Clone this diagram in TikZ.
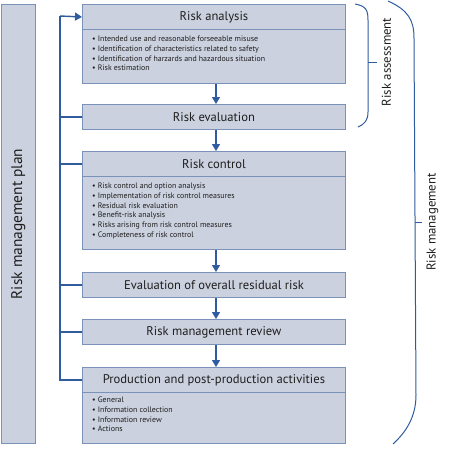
\documentclass[tikz,border=0pt]{standalone}
\usepackage{fontspec}
\setmainfont{PT Sans}
\usetikzlibrary{arrows.meta}
\definecolor{boxfill}{RGB}{203,209,222}
\definecolor{boxline}{RGB}{122,146,186}
\definecolor{flowblue}{RGB}{46,92,158}
\definecolor{txt}{RGB}{30,30,30}
\begin{document}
\begin{tikzpicture}[x=1pt,y=-1pt,
  boxc/.style={draw=boxline, fill=boxfill, line width=0.9pt, minimum width=263pt, inner sep=0pt, anchor=north west},
  titlebox/.style={boxc, minimum height=25pt, text=txt, font=\fontsize{12.6}{14}\selectfont},
  bullets/.style={anchor=north west, align=left, inner sep=0pt, text=txt, font=\fontsize{7.9}{9.7}\selectfont},
  flow/.style={draw=flowblue, line width=1.4pt},
  tip/.style={-{Triangle[width=8pt,length=7pt]}},
  brace/.style={draw=flowblue, line width=1pt},
  sidelabel/.style={rotate=90, text=txt, font=\fontsize{12.8}{14}\selectfont}
]
\useasboundingbox (0,0) rectangle (450,469);
% left plan box
\node[boxc, minimum width=34.5pt, minimum height=439pt, anchor=north west] (plan) at (0.5,4) {};
\node[sidelabel, font=\fontsize{15.4}{17}\selectfont] (planlabel) at (plan.center) {Risk management plan};

% Risk analysis
\node[titlebox] (ra) at (82,4) {Risk analysis};
\node[boxc, minimum height=54pt] (rab) at (82,29) {};
\node[bullets] (rat) at (92,36) {• Intended use and reasonable forseeable misuse\\• Identification of characteristics related to safety\\• Identification of harzards and hazardous situation\\• Risk estimation};

% Risk evaluation
\node[titlebox] (re) at (82,104) {Risk evaluation};

% Risk control
\node[titlebox] (rc) at (82,151) {Risk control};
\node[boxc, minimum height=73pt] (rcb) at (82,176) {};
\node[bullets] (rct) at (92,183) {• Risk control and option analysis\\• Implementation of risk control measures\\• Residual risk evaluation\\• Benefit-risk analysis\\• Risks arising from risk control measures\\• Completeness of risk control};

% Evaluation of overall residual risk
\node[titlebox] (eo) at (82,272) {Evaluation of overall residual risk};

% Risk management review
\node[titlebox] (rmr) at (82,319) {Risk management review};

% Production
\node[titlebox] (pp) at (82,367) {Production and post-production activities};
\node[boxc, minimum height=51pt] (ppb) at (82,392) {};
\node[bullets] (ppt) at (92,397) {• General\\• Information collection\\• Information review\\• Actions};

% flow arrows
\draw[flow, tip] (rab.south -| 216,0) -- (re.north -| 216,0);
\draw[flow, tip] (re.south -| 216,0) -- (rc.north -| 216,0);
\draw[flow, tip] (rcb.south -| 216,0) -- (eo.north -| 216,0);
\draw[flow, tip] (eo.south -| 216,0) -- (rmr.north -| 216,0);
\draw[flow, tip] (rmr.south -| 216,0) -- (pp.north -| 216,0);

% feedback line
\coordinate (ltop) at (60,16);
\coordinate (lbot) at (60,380);
\draw[flow] (pp.west |- lbot) -- (lbot) -- (ltop);
\draw[flow, tip] (ltop) -- (ra.west);
\draw[flow] (60,0 |- re.west) -- (re.west);
\draw[flow] (60,0 |- rc.west) -- (rc.west);
\draw[flow] (60,0 |- eo.west) -- (eo.west);
\draw[flow] (60,0 |- rmr.west) -- (rmr.west);

% brace risk assessment
\draw[brace] (355,4) .. controls (366,6) and (368,10) .. (368,20) -- (368,112) .. controls (368,120) and (365,124) .. (358,127);
\draw[brace] (368,62) -- (377,62);
\node[sidelabel] (ralabel) at (386.5,62) {Risk assessment};

% brace risk management
\draw[brace] (388,1) .. controls (408,10) and (414,20) .. (414,38) -- (416,395) .. controls (416,418) and (405,433) .. (393,444);
\draw[brace] (415,222) -- (422,222);
\node[sidelabel] (rmlabel) at (432.5,222) {Risk management};
\end{tikzpicture}
\end{document}
